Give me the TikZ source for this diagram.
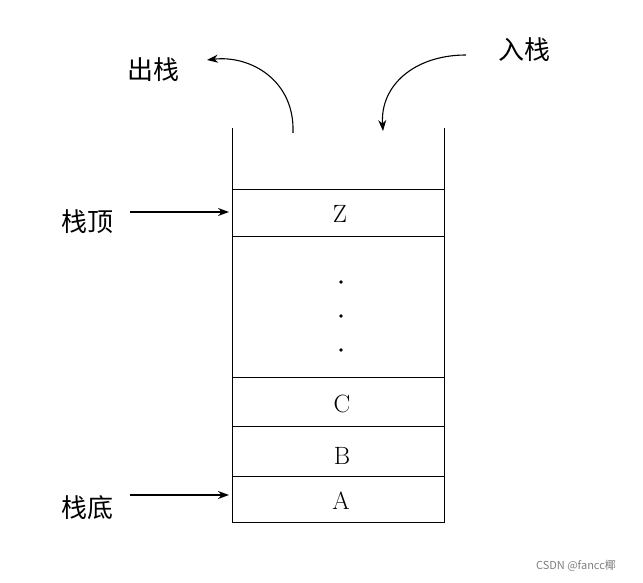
\documentclass[tikz,border=0pt]{standalone}
\usepackage{fontspec}
\newfontfamily\cjk{Noto Sans CJK SC}
\usetikzlibrary{arrows.meta}
\begin{document}
\begin{tikzpicture}[x=1pt,y=-1pt,
  lbl/.style={font=\cjk\fontsize{26}{30}\selectfont},
  let/.style={font=\fontsize{25}{28}\selectfont},
  arr/.style={-{Stealth[length=11pt,width=8pt]},line width=1.4pt},
  ln/.style={line width=0.9pt}]
\useasboundingbox[fill=white] (0,0) rectangle (643,583);
\draw[ln] (232,128) -- (232,522) -- (444,522) -- (444,128);
\foreach \y in {189,236,377,426,476} \draw[ln] (232,\y) -- (444,\y);
\node[let] (z) at (340,214) {Z};
\foreach \y/\n in {282/d1,316/d2,350/d3} \node[circle,fill,inner sep=1.3pt] (\n) at (341,\y) {};
\node[let] (c) at (342,404) {C};
\node[let] (b) at (342,456) {B};
\node[let] (a) at (341,501) {A};
\node[lbl] (top) at (87,222) {栈顶};
\node[lbl] (bot) at (87,508) {栈底};
\node[lbl] (out) at (153,70) {出栈};
\node[lbl] (in) at (524,50) {入栈};
\coordinate (t1) at (130,212); \coordinate (t2) at (229,212);
\coordinate (b1) at (130,495); \coordinate (b2) at (229,495);
\draw[arr] (t1) -- (t2);
\draw[arr] (b1) -- (b2);
\coordinate (o1) at (293,133); \coordinate (o2) at (207,60);
\draw[line width=1.1pt,-{Stealth[length=11pt,width=8pt]}] (o1) .. controls (295,80) and (250,55) .. (o2);
\coordinate (i1) at (466,55); \coordinate (i2) at (383,131);
\draw[line width=1.1pt,-{Stealth[length=11pt,width=8pt]}] (i1) .. controls (415,55) and (380,85) .. (i2);
\node[font=\cjk\fontsize{11}{13}\selectfont,text=gray] (wm) at (576,566) {CSDN @fancc椰};
\end{tikzpicture}
\end{document}
